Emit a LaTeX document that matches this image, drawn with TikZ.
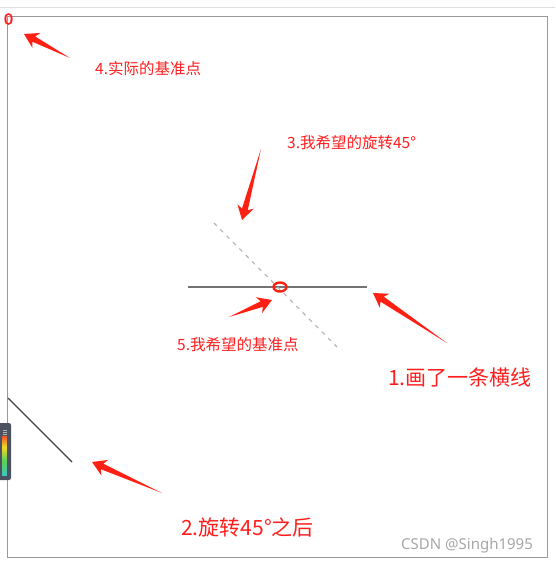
\documentclass[tikz,border=0pt]{standalone}
\usepackage{fontspec}
\setmainfont{Noto Sans}
\newfontfamily\cjk{Noto Sans CJK SC}
\newfontfamily\zerofont{Liberation Sans}[FakeBold=2]
\usetikzlibrary{calc,shapes.geometric}
\definecolor{arrowred}{RGB}{255,32,20}
\definecolor{txtred}{RGB}{255,30,30}
\definecolor{slate}{RGB}{76,82,96}
\definecolor{barA}{RGB}{240,90,40}
\definecolor{barB}{RGB}{235,215,40}
\definecolor{barC}{RGB}{90,210,90}
\definecolor{barD}{RGB}{60,200,190}
\newcommand\blockarrow[2]{%
  \fill[arrowred] (#1)
    -- ($($(#2)!11pt!(#1)$)!3pt!90:(#2)$)
    -- ($($(#2)!14pt!(#1)$)!8.5pt!90:(#2)$)
    -- (#2)
    -- ($($(#2)!14pt!(#1)$)!8.5pt!-90:(#2)$)
    -- ($($(#2)!11pt!(#1)$)!3pt!-90:(#2)$)
    -- cycle;}
\begin{document}
\begin{tikzpicture}[x=1pt,y=-1pt,
  lbl/.style={text=txtred,font=\cjk\fontsize{15.5}{17}\selectfont,inner sep=0pt,anchor=west},
  biglbl/.style={text=txtred,font=\cjk\fontsize{21}{23}\selectfont,inner sep=0pt,anchor=west}]
\useasboundingbox (0,0) rectangle (555,567);
% page line and canvas
\draw[gray!25,line width=1pt] (0,8) -- (555,8);
\draw[gray!80,line width=0.9pt] (7.5,16) rectangle (547,557);
% origin marker
\node[text=txtred,font=\zerofont\fontsize{16}{17}\selectfont,inner sep=0pt] (zero) at (8.5,19) {0};
% horizontal line
\coordinate (hl) at (188,287);
\coordinate (hr) at (367,287);
\draw[gray!90!black,line width=1.6pt] (hl) -- (hr);
% dashed desired line
\coordinate (dl) at (214,223);
\coordinate (dr) at (337,347);
\draw[gray!60,line width=1.1pt,dash pattern=on 4pt off 5pt] (dl) -- (dr);
% desired pivot circle
\node[draw=arrowred,line width=2.4pt,ellipse,minimum width=13pt,minimum height=9pt,inner sep=0pt] (piv) at (280,287) {};
% actual rotated line
\coordinate (rl) at (8,398);
\coordinate (rr) at (72,462);
\draw[gray!50!black,line width=1.3pt] (rl) -- (rr);
% widget
\fill[slate,rounded corners=2pt] (-3,423) rectangle (11,480);
\foreach \yy in {430,432,434} \draw[gray!60,line width=0.8pt] (3,\yy) -- (7,\yy);
\foreach \i in {0,...,19} {
  \ifnum\i<6
    \pgfmathsetmacro\tt{\i/5*100}
    \colorlet{barc}{barB!\tt!barA}
  \else\ifnum\i<13
    \pgfmathsetmacro\tt{(\i-6)/6*100}
    \colorlet{barc}{barC!\tt!barB}
  \else
    \pgfmathsetmacro\tt{(\i-13)/6*100}
    \colorlet{barc}{barD!\tt!barC}
  \fi\fi
  \draw[barc,line width=1.2pt] (2,437+\i*2) -- (7,437+\i*2);
}
% labels
\node[lbl] (t4) at (95,69) {4.实际的基准点};
\node[lbl] (t3) at (287,143) {3.我希望的旋转45°};
\node[lbl] (t5) at (177,345) {5.我希望的基准点};
\node[biglbl] (t1) at (388,378) {1.画了一条横线};
\node[biglbl] (t2) at (181,527) {2.旋转45°之后};
\node[text=gray!70,font=\fontsize{15}{16}\selectfont,inner sep=0pt,anchor=west] (wm) at (401,546) {CSDN @Singh1995};
% arrows
\coordinate (a4s) at (70,58);  \coordinate (a4e) at (24,34);
\coordinate (a3s) at (261,149); \coordinate (a3e) at (242,220);
\coordinate (a5s) at (229,317); \coordinate (a5e) at (272,300);
\coordinate (a1s) at (447,343); \coordinate (a1e) at (373,293);
\coordinate (a2s) at (162,493); \coordinate (a2e) at (92,462);
\blockarrow{a4s}{a4e}
\blockarrow{a3s}{a3e}
\blockarrow{a5s}{a5e}
\blockarrow{a1s}{a1e}
\blockarrow{a2s}{a2e}
\end{tikzpicture}
\end{document}
